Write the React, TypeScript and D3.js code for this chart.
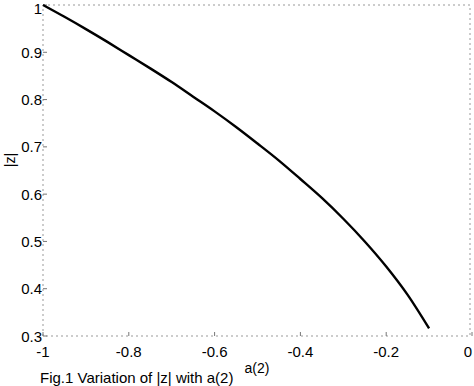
import React, { useRef, useEffect } from "react";
import * as d3 from "d3";

// values: a(2) vs |z|
const a2 = [-1, -0.95, -0.9, -0.85, -0.8, -0.75, -0.7, -0.65, -0.6, -0.55, -0.5, -0.45, -0.4, -0.35, -0.3, -0.25, -0.2, -0.15, -0.1];
const zAbs = [1.0, 0.975, 0.949, 0.922, 0.894, 0.866, 0.837, 0.806, 0.775, 0.742, 0.707, 0.671, 0.632, 0.592, 0.548, 0.5, 0.447, 0.387, 0.316];

const xTicks = [-1, -0.8, -0.6, -0.4, -0.2, 0];
const yTicks = [0.3, 0.4, 0.5, 0.6, 0.7, 0.8, 0.9, 1];

const xLabel = "a(2)";
const yLabel = "|z|";
const caption = "Fig.1 Variation of |z| with a(2)";

function Chart({ width = 474, height = 386 }) {
  const svgRef = useRef(null);

  useEffect(() => {
    const svg = d3.select(svgRef.current);
    svg.selectAll("*").remove();

    const margin = { top: 5, right: 2, bottom: 50, left: 43 };
    const x = d3.scaleLinear().domain([-1, 0]).range([margin.left, width - margin.right]);
    const y = d3.scaleLinear().domain([0.3, 1]).range([height - margin.bottom, margin.top]);
    const font = "Liberation Sans, Arial, sans-serif";
    const fmt = (d: number) => String(d); // plain hyphen minus, like the original

    svg.append("rect").attr("width", width).attr("height", height).attr("fill", "#fff");

    // dotted frame, scanned-look
    svg.append("rect")
      .attr("x", x(-1)).attr("y", y(1))
      .attr("width", x(0) - x(-1) - 2).attr("height", y(0.3) - y(1))
      .attr("fill", "none")
      .attr("stroke", "#999")
      .attr("stroke-width", 1)
      .attr("stroke-dasharray", "2,3");

    // small ticks
    svg.append("g").selectAll("line").data(yTicks).join("line")
      .attr("x1", x(-1)).attr("x2", x(-1) + 4)
      .attr("y1", d => y(d)).attr("y2", d => y(d))
      .attr("stroke", "#777");
    svg.append("g").selectAll("line").data(xTicks).join("line")
      .attr("x1", d => x(d)).attr("x2", d => x(d))
      .attr("y1", y(0.3)).attr("y2", y(0.3) - 4)
      .attr("stroke", "#777");

    svg.append("g").selectAll("text").data(yTicks).join("text")
      .attr("x", x(-1) - 1)
      .attr("y", d => (d === 1 ? y(d) + 9 : y(d) + 5.5))
      .attr("text-anchor", "end")
      .attr("font-family", font)
      .attr("font-size", 15)
      .attr("fill", "#000")
      .text(fmt);

    svg.append("g").selectAll("text").data(xTicks).join("text")
      .attr("x", d => (d === 0 ? x(d) - 4 : x(d)))
      .attr("y", y(0.3) + 21)
      .attr("text-anchor", "middle")
      .attr("font-family", font)
      .attr("font-size", 15)
      .attr("fill", "#000")
      .text(fmt);

    svg.append("text")
      .attr("x", 257).attr("y", 373)
      .attr("text-anchor", "middle")
      .attr("font-family", font).attr("font-size", 14)
      .text(xLabel);

    svg.append("text")
      .attr("transform", `translate(15,160) rotate(-90)`)
      .attr("text-anchor", "middle")
      .attr("font-family", font).attr("font-size", 14)
      .text(yLabel);

    svg.append("text")
      .attr("x", 40).attr("y", 383)
      .attr("font-family", font).attr("font-size", 15)
      .text(caption);

    const line = d3.line<number>()
      .x((d, i) => x(a2[i]))
      .y(d => y(d))
      .curve(d3.curveMonotoneX);

    svg.append("path")
      .datum(zAbs)
      .attr("fill", "none")
      .attr("stroke", "#000")
      .attr("stroke-width", 2.4)
      .attr("d", line);
  }, [width, height]);

  return <svg ref={svgRef} width={width} height={height} style={{ position: "absolute", left: 0, top: 0 }}></svg>;
}

export default function App() {
  return <Chart />;
}
